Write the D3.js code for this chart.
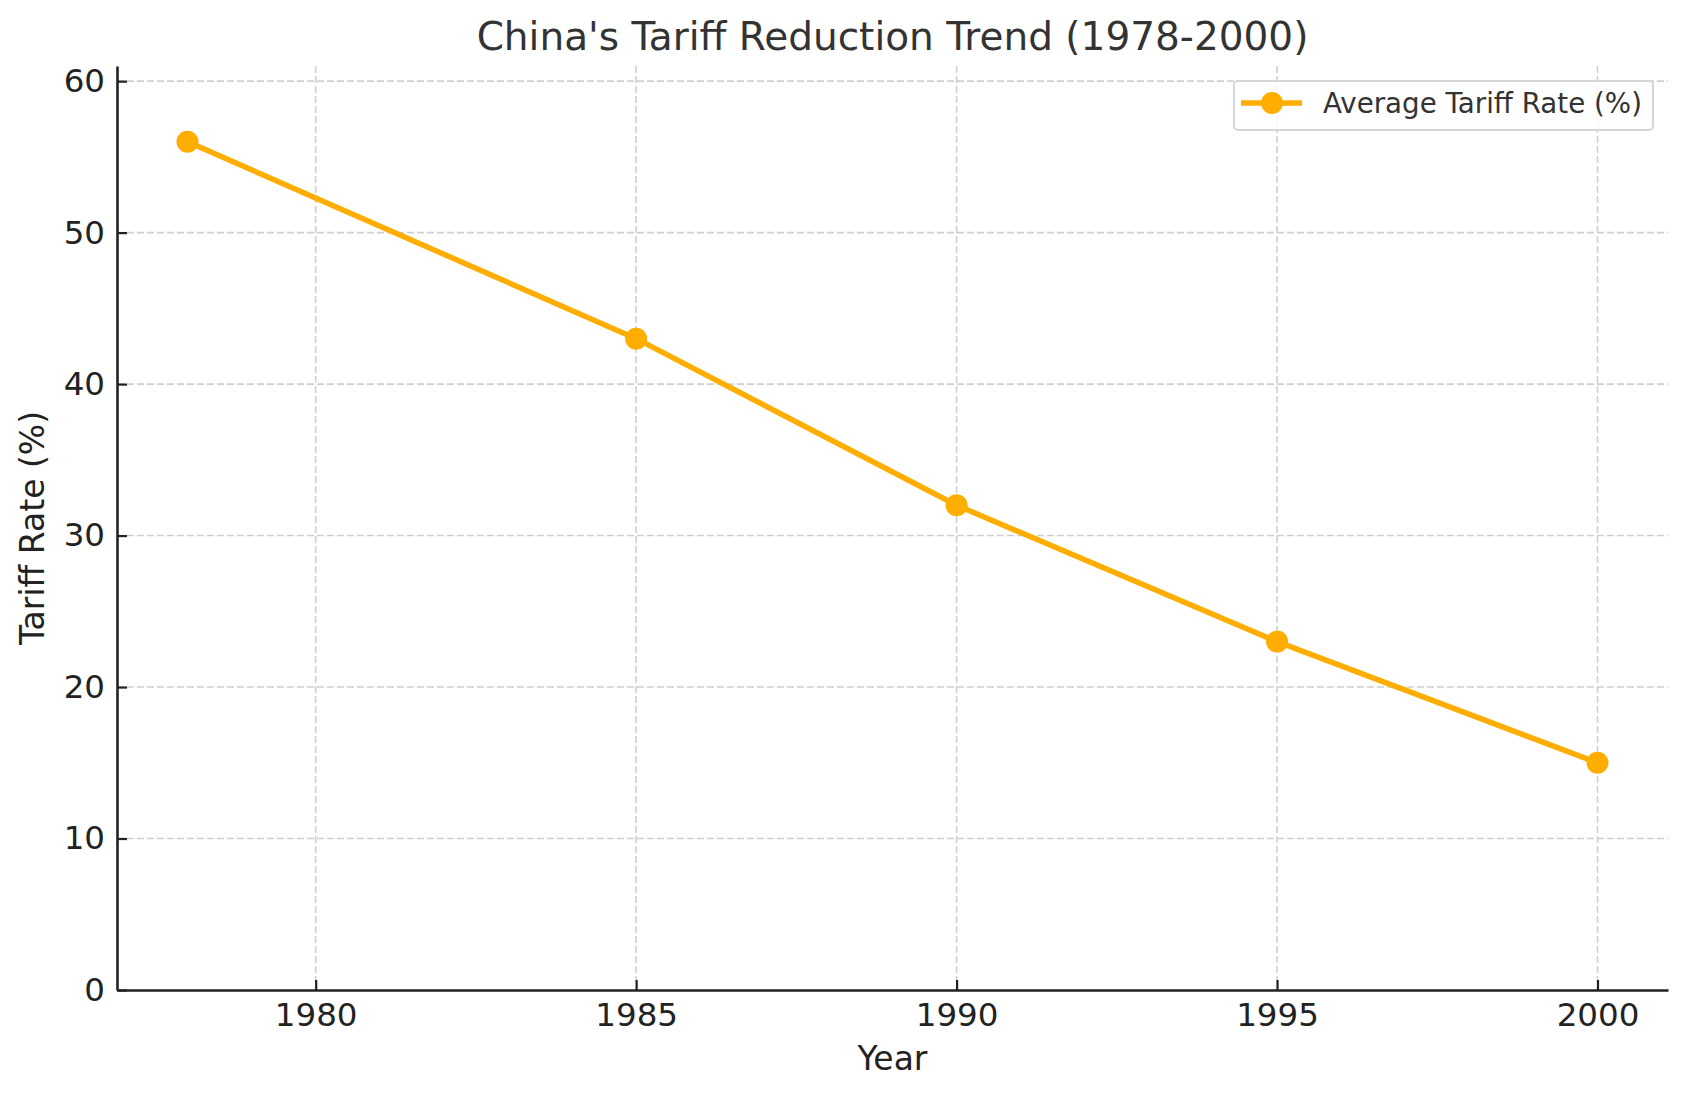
<!DOCTYPE html>
<html>
<head>
<meta charset="utf-8">
<script src="https://cdn.jsdelivr.net/npm/d3@7"></script>
<style>
  body { margin: 0; background: #fff; }
  text { font-family: "DejaVu Sans", sans-serif; }
</style>
</head>
<body>
<svg id="chart" width="1686" height="1097"></svg>
<script>
// values
const years = [1978, 1985, 1990, 1995, 2000];
const tariffRates = [56, 43, 32, 23, 15];
const xTicks = [1980, 1985, 1990, 1995, 2000];
const yTicks = [0, 10, 20, 30, 40, 50, 60];
const seriesName = "Average Tariff Rate (%)";

const svg = d3.select("#chart");
const margin = {left: 117, right: 1686 - 1668, top: 66, bottom: 1097 - 990};
const width = 1686 - margin.left - margin.right;
const height = 1097 - margin.top - margin.bottom;
const lineColor = "#ffae00";

// x padded 5% each side like matplotlib does
const xSpan = d3.max(years) - d3.min(years);
const x = d3.scaleLinear()
    .domain([d3.min(years) - xSpan * 0.05, d3.max(years) + xSpan * 0.05])
    .range([0, width]);
const y = d3.scaleLinear().domain([0, 61]).range([height, 0]);

const g = svg.append("g").attr("transform", `translate(${margin.left},${margin.top})`);

// grid
g.append("g").selectAll("line.gx")
    .data(xTicks).enter().append("line")
    .attr("x1", d => x(d)).attr("x2", d => x(d))
    .attr("y1", 0).attr("y2", height)
    .attr("stroke", "#cfcfcf").attr("stroke-width", 1.6)
    .attr("stroke-dasharray", "7,3");
g.append("g").selectAll("line.gy")
    .data(yTicks.filter(d => d > 0)).enter().append("line")
    .attr("x1", 0).attr("x2", width)
    .attr("y1", d => y(d)).attr("y2", d => y(d))
    .attr("stroke", "#cfcfcf").attr("stroke-width", 1.6)
    .attr("stroke-dasharray", "7,3");

// axes, ticks pointing inward
const xAxis = g.append("g")
    .attr("transform", `translate(0,${height})`)
    .call(d3.axisBottom(x).tickValues(xTicks).tickFormat(d3.format("d")).tickSizeInner(-10).tickSizeOuter(0).tickPadding(13));
const yAxis = g.append("g")
    .call(d3.axisLeft(y).tickValues(yTicks).tickSizeInner(-10).tickSizeOuter(0).tickPadding(12));

[xAxis, yAxis].forEach(a => {
    a.select(".domain").attr("stroke", "#222").attr("stroke-width", 2.6);
    a.selectAll(".tick line").attr("stroke", "#222").attr("stroke-width", 2.2);
    a.selectAll(".tick text").attr("fill", "#222").style("font-size", "32.5px")
        .style("font-family", "DejaVu Sans");
});
xAxis.selectAll(".tick text").attr("dy", "0.71em");

// line + markers
const line = d3.line()
    .x((d, i) => x(years[i]))
    .y(d => y(d));

g.append("path")
    .datum(tariffRates)
    .attr("fill", "none")
    .attr("stroke", lineColor)
    .attr("stroke-width", 5.5)
    .attr("stroke-linejoin", "round")
    .attr("d", line);

g.selectAll("circle.pt")
    .data(tariffRates).enter().append("circle")
    .attr("cx", (d, i) => x(years[i]))
    .attr("cy", d => y(d))
    .attr("r", 11)
    .attr("fill", lineColor);

// title and labels
svg.append("text")
    .attr("x", margin.left + width / 2).attr("y", 50)
    .attr("text-anchor", "middle")
    .attr("fill", "#333")
    .style("font-size", "39px")
    .text("China's Tariff Reduction Trend (1978-2000)");

svg.append("text")
    .attr("x", margin.left + width / 2).attr("y", 1070)
    .attr("text-anchor", "middle")
    .attr("fill", "#222")
    .style("font-size", "33px")
    .text("Year");

svg.append("text")
    .attr("transform", `translate(44,${margin.top + height / 2}) rotate(-90)`)
    .attr("text-anchor", "middle")
    .attr("fill", "#222")
    .style("font-size", "33px")
    .text("Tariff Rate (%)");

// legend
const lg = svg.append("g");
lg.append("rect")
    .attr("x", 1234).attr("y", 81)
    .attr("width", 419).attr("height", 49)
    .attr("rx", 4)
    .attr("fill", "#fff").attr("fill-opacity", 0.8)
    .attr("stroke", "#d6d6d6").attr("stroke-width", 2);
lg.append("line")
    .attr("x1", 1241).attr("x2", 1302)
    .attr("y1", 103).attr("y2", 103)
    .attr("stroke", lineColor).attr("stroke-width", 5.5);
lg.append("circle")
    .attr("cx", 1272).attr("cy", 103).attr("r", 11)
    .attr("fill", lineColor);
lg.append("text")
    .attr("x", 1323).attr("y", 113)
    .attr("fill", "#333")
    .style("font-size", "27.7px")
    .text(seriesName);
</script>
</body>
</html>
